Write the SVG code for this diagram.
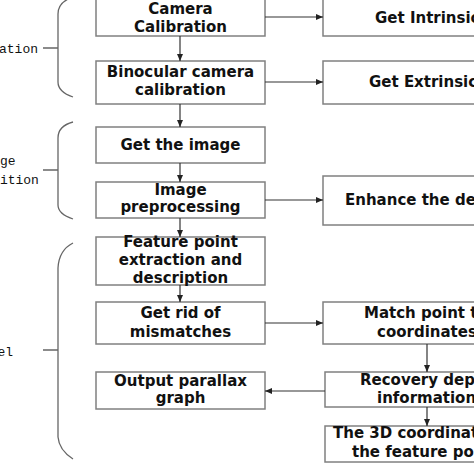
<svg xmlns="http://www.w3.org/2000/svg" width="474" height="474" viewBox="0 0 474 474">
<defs>
<style>
.box{fill:#fff;stroke:#808080;stroke-width:1.5}
.t{font-family:"DejaVu Sans",sans-serif;font-weight:bold;font-size:15px;fill:#111;text-anchor:middle}
.ts{font-family:"DejaVu Sans",sans-serif;font-weight:bold;font-size:15px;fill:#111;text-anchor:start}
.lab{font-family:"Liberation Mono",monospace;font-size:13px;fill:#111}
.br{fill:none;stroke:#666;stroke-width:1.3}
.c{fill:none;stroke:#333;stroke-width:1.2;marker-end:url(#ah)}
</style>
<marker id="ah" markerWidth="8" markerHeight="8" refX="7" refY="4" orient="auto" markerUnits="userSpaceOnUse">
<path d="M0,1 L7,4 L0,7 Z" fill="#222"/>
</marker>
</defs>
<rect width="474" height="474" fill="#fff"/>

<g id="labels">
<text class="lab" x="38" y="53" text-anchor="end">Camera calibration</text>
<text class="lab" x="-4" y="165" text-anchor="middle">Image</text>
<text class="lab" x="-4" y="184" text-anchor="middle">acquisition</text>
<text class="lab" x="13" y="356" text-anchor="end">Stereo matching model</text>
<path class="br" d="M73,-3 Q58,2 58,14 L58,82 Q58,92 73,97 M43,48 L58,48"/>
<path class="br" d="M73,122 Q58,126 58,138 L58,205 Q58,214 73,219 M43,170 L58,170"/>
<path class="br" d="M73,243 Q59,250 58,268 L58,437 Q59,450 73,459 M43,350 L58,350"/>
</g>

<g id="n1"><rect class="box" x="96" y="-4" width="169" height="40"/>
<text class="t" x="180.5" y="14">Camera</text><text class="t" x="180.5" y="32">Calibration</text></g>
<g id="n2"><rect class="box" x="96" y="61" width="169" height="43"/>
<text class="t" x="180.5" y="77">Binocular camera</text><text class="t" x="180.5" y="95">calibration</text></g>
<g id="n3"><rect class="box" x="96" y="127" width="169" height="36"/>
<text class="t" x="180.5" y="150">Get the image</text></g>
<g id="n4"><rect class="box" x="96" y="182" width="169" height="36"/>
<text class="t" x="180.5" y="195">Image</text><text class="t" x="180.5" y="212">preprocessing</text></g>
<g id="n5"><rect class="box" x="96" y="237" width="169" height="48"/>
<text class="t" x="180.5" y="247">Feature point</text><text class="t" x="180.5" y="265">extraction and</text><text class="t" x="180.5" y="283">description</text></g>
<g id="n6"><rect class="box" x="96" y="302" width="169" height="42"/>
<text class="t" x="180.5" y="318">Get rid of</text><text class="t" x="180.5" y="337">mismatches</text></g>
<g id="n7"><rect class="box" x="96" y="372" width="169" height="37"/>
<text class="t" x="180.5" y="386">Output parallax</text><text class="t" x="180.5" y="403">graph</text></g>

<g id="r1"><rect class="box" x="323" y="-4" width="170" height="40"/>
<text class="ts" x="375" y="23">Get Intrinsic</text></g>
<g id="r2"><rect class="box" x="323" y="61" width="170" height="43"/>
<text class="ts" x="369" y="87">Get Extrinsic</text></g>
<g id="r3"><rect class="box" x="323" y="176" width="170" height="49"/>
<text class="ts" x="345" y="205">Enhance the depth</text></g>
<g id="r4"><rect class="box" x="323" y="302" width="170" height="42"/>
<text class="ts" x="364" y="318">Match point to</text><text class="ts" x="377" y="337">coordinates</text></g>
<g id="r5"><rect class="box" x="325" y="372" width="170" height="35"/>
<text class="ts" x="360" y="385">Recovery depth</text><text class="ts" x="377" y="403">information</text></g>
<g id="r6"><rect class="box" x="325" y="426" width="170" height="36"/>
<text class="ts" x="333" y="438">The 3D coordinates of</text><text class="ts" x="352" y="457">the feature points</text></g>

<g id="connectors">
<path class="c" d="M180,36 L180,61"/>
<path class="c" d="M180,104 L180,127"/>
<path class="c" d="M180,163 L180,182"/>
<path class="c" d="M180,218 L180,237"/>
<path class="c" d="M180,285 L180,302"/>
<path class="c" d="M265,17 L323,17"/>
<path class="c" d="M265,82 L323,82"/>
<path class="c" d="M265,200 L323,200"/>
<path class="c" d="M265,323 L323,323"/>
<path class="c" d="M427,344 L427,372"/>
<path class="c" d="M427,407 L427,426"/>
<path class="c" d="M325,391 L265,391"/>
</g>
</svg>
